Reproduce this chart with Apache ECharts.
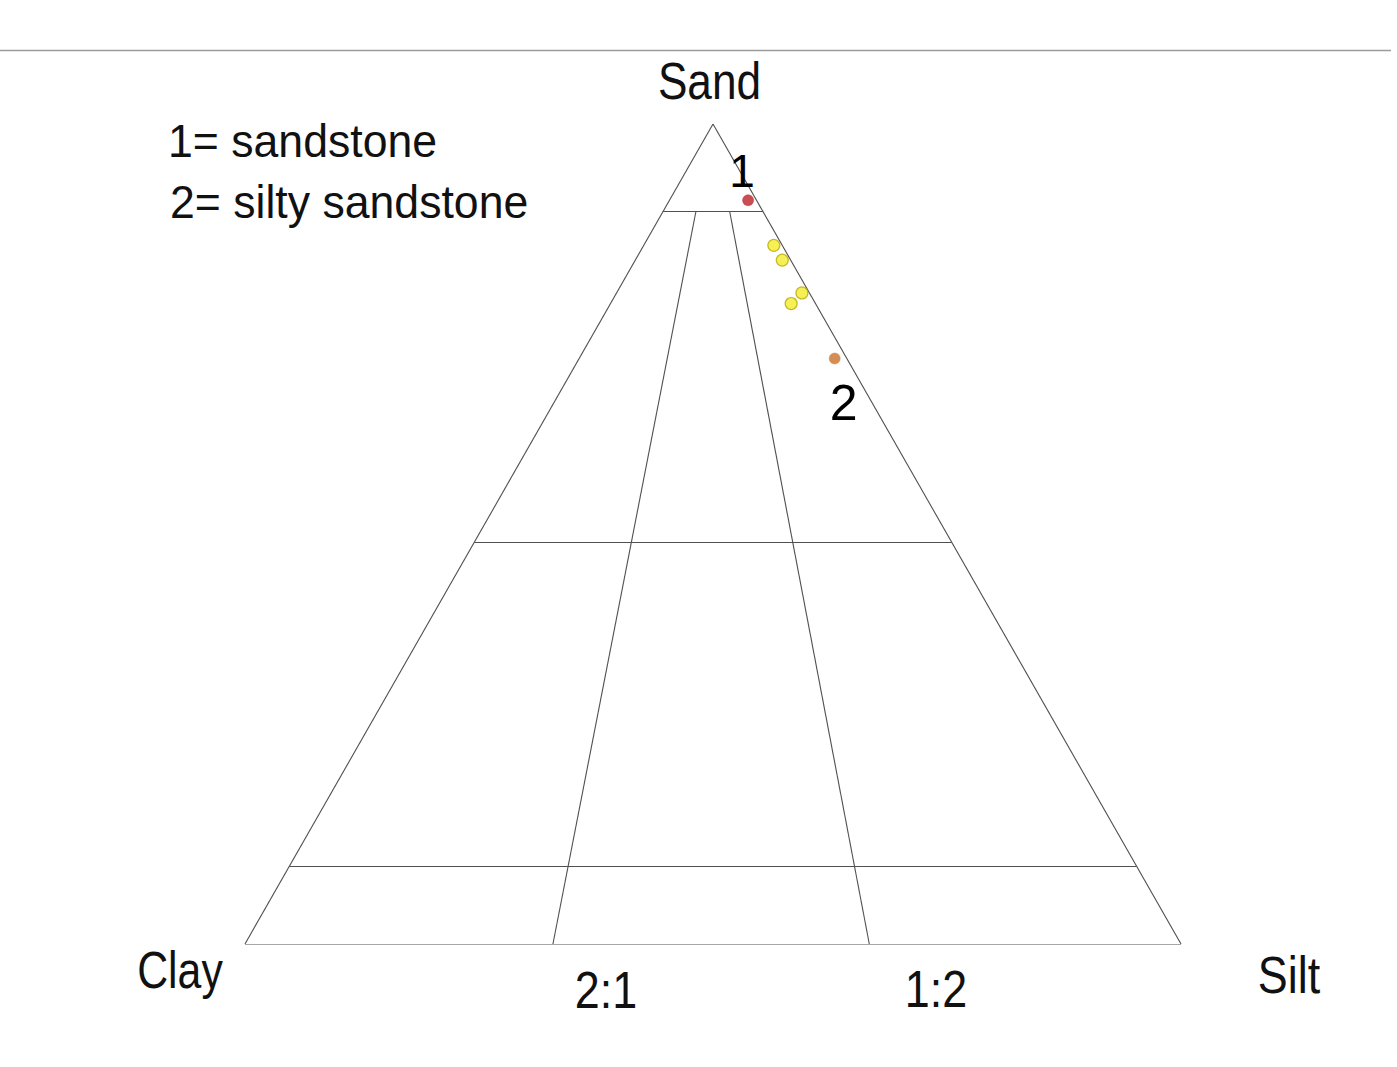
<!DOCTYPE html>
<html>
<head>
<meta charset="utf-8">
<script src="https://cdn.jsdelivr.net/npm/echarts@6/dist/echarts.min.js"></script>
<style>
html,body{margin:0;padding:0;background:#fff;}
#chart{width:1397px;height:1067px;}
</style>
</head>
<body>
<div id="chart"></div>
<script>
// ---- Data (percent) ----
var endMembers = ['Sand', 'Silt', 'Clay'];
var sandLevels = [89.3, 49.0, 9.5];          // horizontal boundaries (sand %)
var ratioLabels = ['2:1', '1:2'];            // clay : silt
var ratioSiltShare = [32.9, 66.7];           // silt share of the non-sand part
var sampleSand = [90.7, 85.2, 83.4, 79.4, 78.1, 71.4];
var sampleSilt = [8.4, 13.9, 15.7, 19.8, 19.3, 27.3];
var sampleClay = [0.9, 0.9, 0.9, 0.8, 2.6, 1.3];
var sampleGroup = [1, 0, 0, 0, 0, 2];        // 1 = sandstone, 2 = silty sandstone, 0 = other
var legendLines = ['1= sandstone', '2= silty sandstone'];

// ternary -> cartesian (x: 0..1 base, y: 0..1 height)
function tern(sand, silt) {
  return [silt / 100 + sand / 200, sand / 100];
}

var frame = [];
frame.push({ coords: [tern(0, 0), tern(0, 100)] });
frame.push({ coords: [tern(0, 100), tern(100, 0)] });
frame.push({ coords: [tern(100, 0), tern(0, 0)] });
sandLevels.forEach(function (s) {
  frame.push({ coords: [tern(s, 0), tern(s, 100 - s)] });
});
var topLevel = Math.max.apply(null, sandLevels);
ratioSiltShare.forEach(function (r) {
  frame.push({ coords: [tern(topLevel, (100 - topLevel) * r / 100), tern(0, r)] });
});

function groupData(g) {
  var out = [];
  for (var i = 0; i < sampleSand.length; i++) {
    if (sampleGroup[i] === g) out.push(tern(sampleSand[i], sampleSilt[i]).concat([sampleClay[i]]));
  }
  return out;
}

var FONT = "'Liberation Sans', Arial, sans-serif";
function txt(t, x, y, size, sx, align) {
  return {
    type: 'text', x: x, y: y, scaleX: sx, silent: true,
    style: {
      text: t, x: 0, y: 0, fill: '#111111',
      font: size + 'px ' + FONT,
      align: align || 'center', textAlign: align || 'center',
      verticalAlign: 'middle', textVerticalAlign: 'middle'
    }
  };
}

var chart = echarts.init(document.getElementById('chart'), null, { renderer: 'svg' });
chart.setOption({
  backgroundColor: '#ffffff',
  animation: false,
  grid: { left: 245, top: 124, width: 936, height: 820, containLabel: false },
  xAxis: { type: 'value', min: 0, max: 1, show: false },
  yAxis: { type: 'value', min: 0, max: 1, show: false },
  series: [
    {
      type: 'lines', coordinateSystem: 'cartesian2d', silent: true,
      lineStyle: { color: '#505050', width: 1.1, opacity: 1 },
      data: frame, z: 1
    },
    {
      name: 'other', type: 'scatter', data: groupData(0), symbolSize: 12, z: 3,
      itemStyle: { color: '#f3ec2c', borderColor: '#b9a900', borderWidth: 1.2 }
    },
    {
      name: legendLines[0], type: 'scatter', data: groupData(1), symbolSize: 11, z: 3,
      itemStyle: { color: '#bb2228', borderColor: '#c43036', borderWidth: 0.6 },
      label: { show: true, formatter: '1', position: 'top', offset: [-6, 5],
        fontSize: 46, fontFamily: FONT, color: '#000000', opacity: 1, textBorderWidth: 0 }
    },
    {
      name: legendLines[1], type: 'scatter', data: groupData(2), symbolSize: 11, z: 3,
      itemStyle: { color: '#c9722a', borderColor: '#d4843e', borderWidth: 0.6 },
      label: { show: true, formatter: '2', position: 'bottom', offset: [9, 9],
        fontSize: 50, fontFamily: FONT, color: '#000000', opacity: 1, textBorderWidth: 0 }
    }
  ],
  graphic: [
    { type: 'line', silent: true, shape: { x1: 0, y1: 50.5, x2: 1391, y2: 50.5 },
      style: { stroke: '#9c9c9c', lineWidth: 1.6 } },
    txt(endMembers[0], 709.5, 81, 52, 0.85),
    txt(endMembers[2], 180, 970, 51, 0.84),
    txt(endMembers[1], 1289, 975, 51, 0.88),
    txt(ratioLabels[0], 606, 990, 51, 0.88),
    txt(ratioLabels[1], 936, 989, 51, 0.88),
    txt(legendLines[0], 168, 141.5, 46, 0.97, 'left'),
    txt(legendLines[1], 170, 202, 46, 0.97, 'left')
  ]
});
</script>
</body>
</html>
